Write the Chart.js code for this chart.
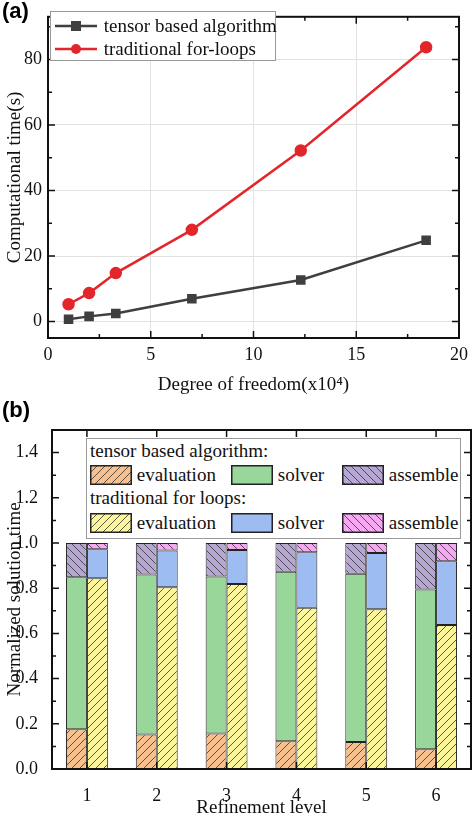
<!DOCTYPE html>
<html><head><meta charset="utf-8">
<script src="https://cdn.jsdelivr.net/npm/chart.js@4"></script>
<style>
body{margin:0;width:474px;height:823px;background:#fff;position:relative;font-family:"Liberation Serif",serif;overflow:hidden}
canvas{display:block}
.lbl{position:absolute;font:bold 22px "Liberation Sans",Arial,sans-serif}
.box{position:absolute;border:1px solid #999;background:#fff;font:19px "Liberation Serif","Times New Roman",serif;color:#111}
.row{position:absolute;white-space:nowrap}
.sw{display:inline-block;vertical-align:middle}
</style></head><body>
<div style="position:absolute;left:0;top:0;width:474px;height:400px"><canvas id="c1" width="474" height="400"></canvas></div>
<div style="position:absolute;left:0;top:400px;width:474px;height:423px"><canvas id="c2" width="474" height="423"></canvas></div>
<div class="lbl" style="left:2px;top:-2px">(a)</div>
<div class="lbl" style="left:2px;top:397px">(b)</div>
<div class="box" id="lg1" style="left:50px;top:11px;width:224px;height:48px"></div>
<div class="box" id="lg2" style="left:86px;top:438px;width:373px;height:99px"></div>
<script>
const dof = [1, 2, 3.3, 7, 12.3, 18.4];
const tensorTime = [0.7, 1.6, 2.5, 7.0, 12.7, 24.8];
const loopTime = [5.3, 8.7, 14.8, 28.0, 52.2, 83.7];

const levels = ['1','2','3','4','5','6'];
const tEval = [0.176, 0.153, 0.157, 0.123, 0.120, 0.087];
const tSolver = [0.673, 0.708, 0.695, 0.750, 0.744, 0.707];
const tAssemble = [0.151, 0.139, 0.148, 0.127, 0.136, 0.206];
const lEval = [0.844, 0.804, 0.819, 0.714, 0.707, 0.637];
const lSolver = [0.128, 0.163, 0.150, 0.245, 0.249, 0.282];
const lAssemble = [0.028, 0.033, 0.031, 0.041, 0.044, 0.081];

const SERIF = '"Liberation Serif", "Times New Roman", serif';
Chart.defaults.font.family = SERIF;
Chart.defaults.color = '#111';

function hatch(bg, dir){
  const s=8, c=document.createElement('canvas'); c.width=s; c.height=s;
  const g=c.getContext('2d'); g.fillStyle=bg; g.fillRect(0,0,s,s);
  g.strokeStyle='#333'; g.lineWidth=0.8; g.beginPath();
  if(dir>0){ g.moveTo(0,s); g.lineTo(s,0); g.moveTo(-s/2,s/2); g.lineTo(s/2,-s/2); g.moveTo(s/2,s*1.5); g.lineTo(s*1.5,s/2);}
  else { g.moveTo(0,0); g.lineTo(s,s); g.moveTo(-s/2,s/2); g.lineTo(s/2,s*1.5); g.moveTo(s/2,-s/2); g.lineTo(s*1.5,s/2);}
  g.stroke();
  return document.createElement('canvas').getContext('2d').createPattern(c,'repeat');
}
const C = {
  tE: hatch('#F6C08F',1), tS:'#98D69A', tA: hatch('#B6A7D2',-1),
  lE: hatch('#FBF59C',1), lS:'#9DBCF2', lA: hatch('#F6A9F2',-1)
};

const frame = {id:'frame', afterDraw(ch, a, o){
  const {ctx, chartArea:ca} = ch; const x=ch.scales.x, y=ch.scales.y;
  ctx.save(); ctx.strokeStyle='#111'; ctx.lineWidth=2;
  ctx.strokeRect(ca.left, ca.top, ca.right-ca.left, ca.bottom-ca.top);
  ctx.lineWidth=1.5;
  const tk=(px,len,horiz)=>{ctx.beginPath(); if(horiz){ctx.moveTo(ca.left,px);ctx.lineTo(ca.left+len,px);ctx.moveTo(ca.right,px);ctx.lineTo(ca.right-len,px);} else {ctx.moveTo(px,ca.bottom);ctx.lineTo(px,ca.bottom-len);ctx.moveTo(px,ca.top);ctx.lineTo(px,ca.top+len);} ctx.stroke();};
  (o.xMaj||[]).forEach(v=>tk(x.getPixelForValue(v),7,false));
  (o.xMin||[]).forEach(v=>tk(x.getPixelForValue(v),4,false));
  (o.yMaj||[]).forEach(v=>tk(y.getPixelForValue(v),7,true));
  (o.yMin||[]).forEach(v=>tk(y.getPixelForValue(v),4,true));
  ctx.restore();
}};
const fix=(w,h)=>s=>{ if(w!=null) s.width=w; if(h!=null) s.height=h; };

new Chart(document.getElementById('c1'), {
  type:'line',
  data:{datasets:[
    {label:'tensor based algorithm', data:dof.map((x,i)=>({x,y:tensorTime[i]})), borderColor:'#3f3f3f', backgroundColor:'#3f3f3f', pointStyle:'rect', pointRadius:5, borderWidth:2.5},
    {label:'traditional for-loops', data:dof.map((x,i)=>({x,y:loopTime[i]})), borderColor:'#E3262B', backgroundColor:'#E3262B', pointStyle:'circle', pointRadius:5, borderWidth:2.5}
  ]},
  options:{responsive:false, animation:false, devicePixelRatio:1,
    layout:{padding:{top:10,right:12,left:0,bottom:0}},
    plugins:{legend:{display:false}, tooltip:{enabled:false},
      frame:{xMaj:[0,5,10,15,20], xMin:[2.5,7.5,12.5,17.5], yMaj:[0,20,40,60,80], yMin:[10,30,50,70,90]}},
    scales:{
      x:{type:'linear', min:0, max:20, afterFit:fix(null,62), border:{display:false},
        ticks:{stepSize:5, font:{size:18}, padding:6}, grid:{color:'#e2e2e2', drawTicks:false},
        title:{display:true, text:'Degree of freedom(x10⁴)', font:{size:19}, padding:{top:10}}},
      y:{min:-5, max:93, afterFit:fix(48,null), border:{display:false},
        afterBuildTicks:s=>{s.ticks=[0,20,40,60,80].map(v=>({value:v}));},
        ticks:{font:{size:18}, padding:6}, grid:{color:'#e2e2e2', drawTicks:false},
        title:{display:true, text:'Computational time(s)', font:{size:19}, padding:{bottom:0}}}
    }},
  plugins:[frame]
});

const mk=(label,data,bg,stack)=>({label,data,backgroundColor:bg,borderColor:'#222',borderWidth:1,stack,borderSkipped:false});
new Chart(document.getElementById('c2'), {
  type:'bar',
  data:{labels:levels, datasets:[
    mk('evaluation',tEval,C.tE,'t'), mk('solver',tSolver,C.tS,'t'), mk('assemble',tAssemble,C.tA,'t'),
    mk('evaluation',lEval,C.lE,'l'), mk('solver',lSolver,C.lS,'l'), mk('assemble',lAssemble,C.lA,'l')
  ]},
  options:{responsive:false, animation:false, devicePixelRatio:1,
    layout:{padding:{top:30,right:3,left:0,bottom:0}},
    datasets:{bar:{categoryPercentage:0.6, barPercentage:1}},
    plugins:{legend:{display:false}, tooltip:{enabled:false},
      frame:{xMaj:[0,1,2,3,4,5], xMin:[], yMaj:[0,0.2,0.4,0.6,0.8,1.0,1.2,1.4], yMin:[0.1,0.3,0.5,0.7,0.9,1.1,1.3]}},
    scales:{
      x:{stacked:true, afterFit:fix(null,54), border:{display:false}, grid:{display:false},
        ticks:{font:{size:18}, padding:8},
        title:{display:true, text:'Refinement level', font:{size:19}, padding:{top:6}}},
      y:{stacked:true, min:0, max:1.5, afterFit:fix(52,null), border:{display:false}, grid:{display:false},
        afterBuildTicks:s=>{s.ticks=[0,0.2,0.4,0.6,0.8,1.0,1.2,1.4].map(v=>({value:v}));},
        ticks:{font:{size:18}, padding:6, callback:v=>Number(v).toFixed(1)},
        title:{display:true, text:'Normalized solution time', font:{size:19}, padding:{bottom:0}}}
    }},
  plugins:[frame]
});

function swatch(fill,w,h){const c=document.createElement('canvas');c.width=w;c.height=h;c.className='sw';c.style.display='inline-block';const g=c.getContext('2d');g.fillStyle=fill;g.fillRect(0,0,w,h);g.strokeStyle='#222';g.lineWidth=1.5;g.strokeRect(0.75,0.75,w-1.5,h-1.5);return c;}
function lineSw(color,shape){const c=document.createElement('canvas');c.width=46;c.height=14;c.className='sw';c.style.display='inline-block';const g=c.getContext('2d');g.strokeStyle=color;g.fillStyle=color;g.lineWidth=2.5;g.beginPath();g.moveTo(2,7);g.lineTo(44,7);g.stroke();if(shape==='rect')g.fillRect(18,2,10,10);else{g.beginPath();g.arc(23,7,5,0,7);g.fill();}return c;}
const lg1=document.getElementById('lg1');
[['tensor based algorithm','#3f3f3f','rect'],['traditional for-loops','#E3262B','circle']].forEach((d,i)=>{
  const r=document.createElement('div');r.className='row';r.style.left='2px';r.style.top=(1+i*23)+'px';
  r.appendChild(lineSw(d[1],d[2]));const s=document.createElement('span');s.textContent=' '+d[0];s.style.verticalAlign='middle';r.appendChild(s);lg1.appendChild(r);
});
const lg2=document.getElementById('lg2');
const addText=(t,top)=>{const r=document.createElement('div');r.className='row';r.style.left='3px';r.style.top=top+'px';r.textContent=t;lg2.appendChild(r);};
const addItems=(items,top)=>{items.forEach((it,i)=>{const r=document.createElement('div');r.className='row';r.style.left=[3,144,255][i]+'px';r.style.top=top+'px';r.appendChild(swatch(it[1],42,20));const s=document.createElement('span');s.textContent=' '+it[0];s.style.verticalAlign='middle';r.appendChild(s);lg2.appendChild(r);});};
addText('tensor based algorithm:',1);
addItems([['evaluation',C.tE],['solver',C.tS],['assemble',C.tA]],23);
addText('traditional for loops:',48);
addItems([['evaluation',C.lE],['solver',C.lS],['assemble',C.lA]],71);
</script></body></html>
